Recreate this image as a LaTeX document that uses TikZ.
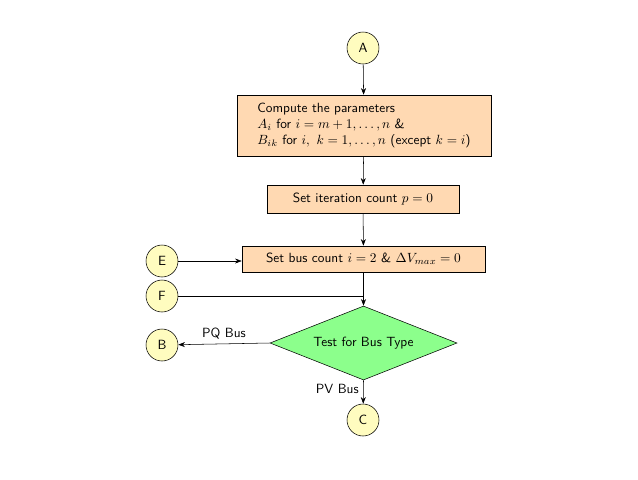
\documentclass[tikz,border=0pt]{standalone}
\usetikzlibrary{shapes.geometric,arrows.meta}
\begin{document}
\begin{tikzpicture}[x=0.75pt,y=-0.75pt,font=\sffamily,
  conn/.style={circle,draw,fill=yellow!25,minimum size=24pt,inner sep=0pt},
  box/.style={draw,fill=orange!30,align=left,anchor=center},
  arr/.style={draw,-{Stealth[length=5pt]}}]
\useasboundingbox (0,0) rectangle (638,479);
\node[conn] (A) at (363,48) {A};
\node[box,minimum width=254*0.75pt,minimum height=61*0.75pt] (b1) at (364,125.5)
  {Compute the parameters\\ $A_i$ for $i=m+1,\ldots,n$ \&\\ $B_{ik}$ for $i,\ k=1,\ldots,n$ (except $k=i$)};
\node[box,minimum width=192*0.75pt,minimum height=28*0.75pt] (b2) at (363,199) {Set iteration count $p=0$};
\node[box,minimum width=243*0.75pt,minimum height=26*0.75pt] (b3) at (363.5,259) {Set bus count $i=2$ \& $\Delta V_{max}=0$};
\node[conn] (E) at (162,261) {E};
\node[conn] (F) at (162,296) {F};
\node[conn] (B) at (162,345) {B};
\node[conn] (C) at (363,420) {C};
\node[diamond,draw,fill=green!45!white,aspect=2.5,minimum width=187*0.75pt,minimum height=74*0.75pt,inner sep=0pt] (d) at (363.5,343) {Test for Bus Type};
\coordinate (j) at (363,296);
\draw[arr] (A) -- (b1);
\draw[arr] (b1) -- (b2);
\draw[arr] (b2) -- (b3);
\draw[arr] (E) -- (b3.west|-E);
\draw (F) -- (j);
\draw[arr] (b3.south-|d.north) -- (d.north);
\draw[arr] (d.west) -- node[above,pos=0.5] {PQ Bus} (B);
\draw[arr] (d.south) -- node[left,pos=0.35] {PV Bus} (C);
\end{tikzpicture}
\end{document}
